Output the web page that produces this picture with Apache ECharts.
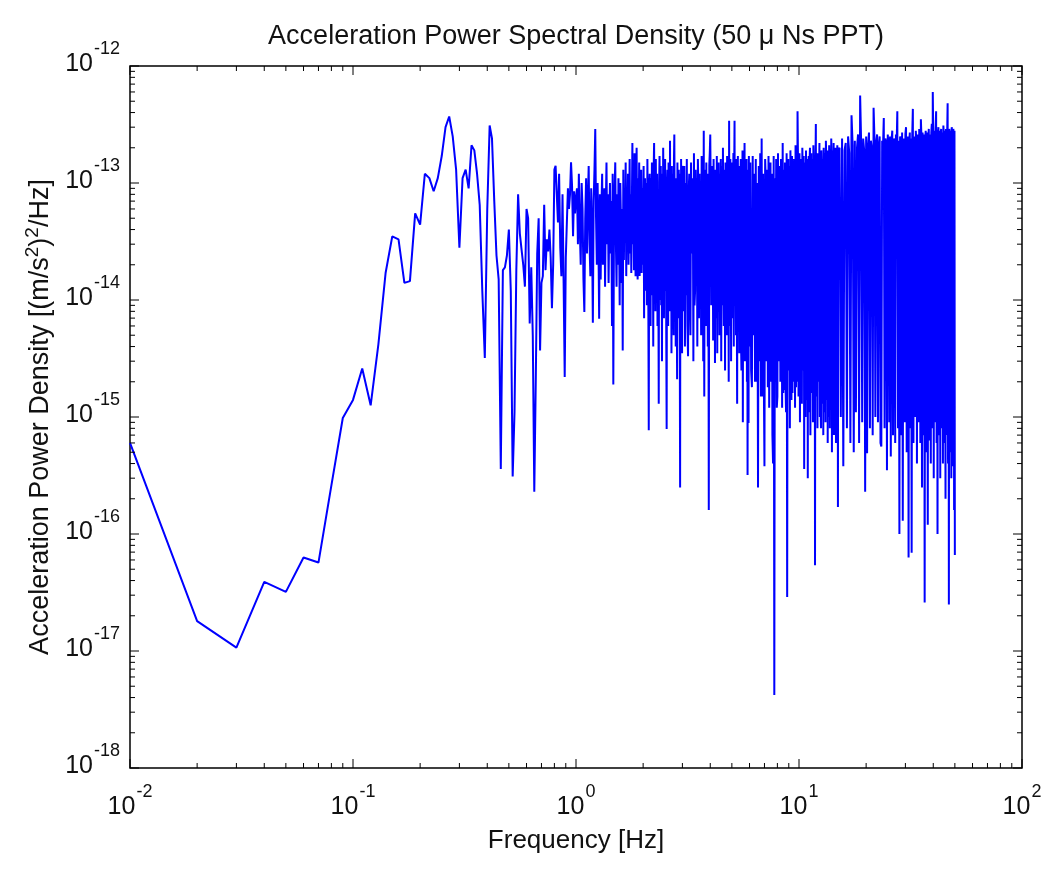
<!DOCTYPE html>
<html><head><meta charset="utf-8">
<script src="https://cdn.jsdelivr.net/npm/echarts@6/dist/echarts.min.js"></script>
<style>html,body{margin:0;padding:0;background:#fff}#c{width:1053px;height:879px}</style>
</head><body><div id="c"></div>
<script>
const titleText = 'Acceleration Power Spectral Density (50 \u03bc Ns PPT)';
const xAxisName = 'Frequency [Hz]';
const yAxisName = '{n|Acceleration Power Density [(m/s}{s|2}{n|)}{s|2}{n|/Hz]}';
const xMinHz = 0.01, xMaxHz = 100;
const yMinPsd = 1e-18, yMaxPsd = 1e-12;

// frequency bins: start and step of each block of PSD values
const binStartHz = [0.01, 1.01, 3.02, 6.05, 15.2];
const binStepHz = [0.01, 0.01, 0.02, 0.05, 0.2];

// 0.01 - 1.00 Hz
const psdA = [6e-16,1.8e-17,1.07e-17,3.9e-17,3.2e-17,6.3e-17,5.7e-17,2.6e-16,9.8e-16,1.4e-15,
2.6e-15,1.26e-15,4.2e-15,1.7e-14,3.5e-14,3.3e-14,1.4e-14,1.45e-14,5.5e-14,4.4e-14,
1.2e-13,1.1e-13,8.5e-14,1.1e-13,1.7e-13,3e-13,3.7e-13,2.5e-13,1.3e-13,2.8e-14,
1.1e-13,1.3e-13,9e-14,2.1e-13,1.9e-13,1.2e-13,6.5e-14,1.2e-14,3.2e-15,6e-14,
3.1e-13,2.4e-13,7e-14,2.4e-14,1.5e-14,3.6e-16,1.8e-14,1.9e-14,2.4e-14,4e-14,
1.2e-14,3.1e-16,1.1e-15,1.8e-14,8e-14,3.7e-14,2.7e-14,2e-14,1.3e-14,6e-14,
5e-14,6.3e-15,1.9e-14,5e-15,2.3e-16,2e-15,2.5e-14,5e-14,3.7e-15,1.4e-14,
1.6e-14,6.5e-14,1.8e-14,3.3e-14,2.6e-14,4e-14,2.3e-14,8.5e-15,2e-14,1.3e-13,
1.4e-13,8e-14,4.6e-14,1.2e-13,2.8e-14,1.6e-14,8e-14,1.4e-14,2.2e-15,2.3e-14,
4.6e-14,9e-14,6e-14,8e-14,1.5e-13,9.5e-14,3.5e-14,8.5e-14,5.5e-14,7.5e-14];

// 1.01 - 3.00 Hz
const psdB = [9e-14,3e-14,1.2e-13,4e-14,2e-14,1e-13,6e-14,1.5e-14,7.9e-15,5e-14,
1.1e-13,2.5e-14,7e-14,1.4e-13,3e-14,1.6e-14,9e-14,4e-14,6.4e-15,7e-14,
1.3e-13,2.9e-13,5e-14,2e-14,1e-13,3.5e-14,6.9e-15,8e-14,1.5e-14,6e-14,
1.2e-13,2e-14,4.5e-14,9e-14,1.3e-14,6e-14,1.5e-13,3e-14,8e-14,1.4e-14,
5e-14,1e-13,2.5e-14,7e-14,6e-15,1.2e-13,1.9e-15,4e-14,9e-14,1.5e-13,
3e-14,1.3e-14,8e-14,2e-14,1.1e-13,4e-14,9e-15,1e-13,5e-14,1.4e-14,
6e-14,3.7e-15,1.3e-13,2.2e-14,9e-14,3.5e-14,1.5e-13,1.6e-14,7e-14,4.5e-14,
1.2e-13,2e-14,5e-14,1.6e-13,2.5e-14,8e-14,1.7e-14,6e-14,2.2e-13,3e-14,
1e-13,1.8e-14,1.8e-13,4e-14,1.6e-14,9e-14,2e-13,2.5e-14,1.5e-14,1.1e-13,
5e-14,1.5e-13,1.6e-14,7e-14,3e-14,1.3e-13,1.7e-14,9e-14,2e-14,6e-14,
1.4e-13,7e-15,8e-14,1.1e-13,1.2e-14,5e-14,1e-13,9e-15,1.6e-13,4e-14,
1e-14,7.7e-16,9e-14,1.2e-13,2e-14,6e-15,1.1e-13,4e-14,1.5e-13,1.1e-14,
8e-14,4e-15,1.3e-13,2.2e-13,2.5e-14,1e-13,8e-15,1.6e-13,5e-14,1.3e-14,
1.2e-13,6e-15,7e-14,1.8e-14,1.3e-15,1e-13,1.7e-13,1e-14,6e-14,1.4e-13,
9e-15,9e-14,3e-15,1.2e-13,1.5e-14,2e-13,7e-14,7e-15,1.1e-13,4e-14,
1.6e-13,1.2e-14,6e-14,4.5e-15,7.9e-16,1e-13,1.3e-13,2e-14,6e-15,1.5e-13,
4e-14,9e-14,8e-15,2.3e-13,1.1e-14,1.1e-13,6e-14,3.5e-15,1.4e-13,3e-14,
8e-14,1.2e-13,1e-14,5e-15,1.6e-13,2.6e-13,5e-14,9e-15,9e-14,4e-15,
1.1e-13,7e-14,1.3e-14,2.1e-15,1.5e-13,4.5e-14,7e-15,1e-13,1.3e-13,1.1e-14,
6e-14,5e-15,2.5e-16,1.2e-13,8e-15,1.6e-13,1.2e-14,8e-14,3.5e-15,1.4e-13];

// 3.02 - 6.00 Hz
const psdC = [9e-14,8e-15,1.4e-13,4e-15,1e-13,1.1e-14,1.6e-13,6e-15,3.3e-15,8e-14,
1.2e-13,1e-14,5e-15,1.5e-13,2.5e-14,6e-14,1.1e-13,3e-15,1.8e-13,9e-15,
1.2e-14,1.3e-13,6e-14,1.1e-13,4e-15,1.6e-13,9e-14,7e-15,1.2e-13,2e-14,
1e-13,5e-15,1.7e-13,1e-14,1.1e-13,3e-15,2.8e-13,1.5e-15,1.3e-13,8e-15,
6e-15,1.5e-13,1.2e-14,1e-13,4e-15,1.2e-13,1.6e-16,1.4e-13,1.8e-13,2.6e-13,
8e-14,9e-15,1.4e-13,3e-14,1.1e-13,4.5e-15,1.6e-13,1e-14,9e-14,2.9e-15,
1.3e-13,7e-15,1.1e-14,1.7e-13,3.5e-15,1e-13,8e-15,1.5e-13,6e-14,5e-15,
1.2e-13,1.2e-14,1.6e-13,3e-15,8e-14,1.4e-13,9e-15,2e-13,2e-14,6e-15,
1.3e-13,7e-14,2.5e-15,1.5e-13,1e-14,1.1e-13,5e-15,1.7e-13,8e-15,9e-14,
1.2e-13,2e-15,3.4e-13,1.1e-14,6e-15,1.6e-13,1e-13,3e-15,1.4e-13,1.2e-14,
1.5e-13,7e-15,9e-14,1.8e-13,4e-15,1.2e-13,3.4e-13,9e-15,1.3e-13,2.5e-14,
5e-15,1.6e-13,1e-14,1.3e-15,1.1e-13,1.7e-13,7e-15,8e-14,1.4e-13,3.5e-15,
1.2e-13,8e-15,1e-13,1.6e-13,4e-15,2.5e-15,1.3e-13,1.1e-14,1.9e-13,9e-16,
7e-14,1.4e-13,6e-15,1.1e-13,2.2e-13,3e-15,1.5e-13,1e-14,1.2e-13,5e-15,
1.6e-13,2e-15,9e-14,3.2e-16,1.3e-13,8e-15,8.9e-16,1.7e-13,4e-15,1.2e-13];

// 6.05 - 15.00 Hz
const psdD = [1.5e-13,2.5e-15,1.8e-15,1.7e-13,5e-15,1.2e-13,2e-15,1.6e-13,2e-15,1e-13,
2.5e-16,1.4e-13,3e-15,1.8e-13,1.5e-15,2.4e-13,1.5e-15,1.2e-13,2.5e-15,3.8e-16,
1.6e-13,1e-13,3e-15,1.3e-13,1.8e-15,1.7e-13,1.2e-15,9e-14,1.5e-13,2e-15,
1.2e-13,7e-16,4e-16,1.7e-13,4.2e-18,1.1e-13,2e-15,1.6e-13,1.2e-15,1.5e-15,
1.8e-13,3e-15,1.2e-13,1.4e-13,2e-15,1.6e-13,9e-14,1.2e-15,2.2e-13,1.6e-15,
1.3e-13,1.7e-15,1.5e-13,1.9e-15,1.1e-15,1.8e-13,2.9e-17,1.2e-13,1.6e-13,2.5e-15,
1.4e-13,8e-16,1.9e-13,1e-13,1.4e-15,1.7e-13,1.6e-15,1.2e-13,2e-15,1.6e-13,
1.1e-13,1.2e-15,2.1e-13,1.8e-15,1.8e-13,2e-15,4.1e-13,1.5e-13,1.5e-15,1.3e-13,
1.8e-13,9e-16,1.4e-13,1.7e-15,1.6e-13,1.3e-15,2e-13,1.1e-13,2.5e-15,1.7e-13,
3.6e-16,1.5e-13,1.2e-13,1e-15,1.9e-13,1.9e-15,1.4e-15,1.6e-13,3e-16,1.3e-13,
1.7e-13,1.1e-15,1.5e-13,2e-13,7e-16,1.2e-13,1.8e-13,1.6e-15,1e-13,1.6e-13,
9e-16,2.1e-13,1.3e-13,1.2e-15,1.7e-13,5.4e-17,1.4e-13,3.2e-13,1.5e-15,1.5e-13,
1.1e-13,8e-16,1.8e-13,1.6e-13,2e-15,1.2e-13,2.2e-13,1e-15,1.7e-13,1.2e-15,
8e-16,1.9e-13,1.4e-13,1.3e-15,1.6e-13,1e-13,7e-16,2e-13,1.5e-13,1.1e-15,
1.8e-13,1.2e-13,9e-16,2.3e-13,1.6e-13,1.4e-15,1.3e-13,1.9e-13,6e-16,1.7e-13,
1.4e-13,1e-15,2.1e-13,1.5e-13,8e-16,1.8e-13,1.2e-13,1.3e-15,2.4e-13,1.6e-13,
5e-16,1.7e-13,1.9e-13,1.1e-15,1.3e-13,2.2e-13,7e-16,1.6e-13,1.8e-13,9e-16,
1.5e-13,2e-13,6e-16,1.4e-13,1.7e-13,1e-15,2.1e-13,1.6e-13,1.7e-16,1.9e-13];

// 15.2 - 50.0 Hz
const psdE = [2e-13,1e-15,2.4e-13,3.8e-16,1.9e-13,2.2e-13,8e-16,2.5e-13,1.8e-13,6e-16,
3.8e-13,2.1e-13,5e-16,2.3e-13,1.1e-15,2e-13,2.6e-13,6e-16,5.6e-13,2.2e-13,
9e-16,2.4e-13,1.9e-13,2.3e-16,2.5e-13,4.9e-16,2.1e-13,2.7e-13,8e-16,2.3e-13,
2e-13,7e-16,4.4e-13,2.4e-13,1e-15,2.2e-13,2.6e-13,9e-16,2.1e-13,2.5e-13,
6e-16,5.6e-16,2.3e-13,2e-13,3.6e-13,8e-16,2.4e-13,2.2e-13,3.5e-16,2.6e-13,
2.1e-13,9e-16,2.5e-13,4.6e-16,2.3e-13,2.8e-13,7e-16,2.2e-13,2.4e-13,6e-16,
2.6e-13,2.1e-13,4.1e-13,8e-16,2.3e-13,1e-16,2.5e-13,2.2e-13,7e-16,2.7e-13,
1.3e-16,2.4e-13,2.1e-13,9e-16,2.6e-13,3e-13,5e-16,2.3e-13,2.5e-13,6.3e-17,
2.2e-13,2.7e-13,8e-16,2.4e-13,6.9e-17,2.6e-13,4.3e-13,6e-16,2.3e-13,2.5e-13,
1e-15,2.8e-13,2.2e-13,4e-16,2.6e-13,2.4e-13,9e-16,2.9e-13,2.3e-13,6e-16,
3.5e-13,2.5e-13,2.5e-16,2.7e-13,2.4e-13,7e-16,2.6e-13,2.6e-17,2.3e-13,2.8e-13,
5e-16,2.5e-13,2.7e-13,1.2e-16,2.4e-13,2.9e-13,6.3e-16,2.6e-13,2.5e-13,4e-16,
2.7e-13,3.2e-13,8e-16,6e-13,2.6e-13,3e-16,2.8e-13,2.4e-13,9e-16,2.9e-13,
4.1e-13,6e-16,2.6e-13,1e-16,2.7e-13,3e-13,7e-16,2.5e-13,2.8e-13,3e-16,
2.6e-13,2.9e-13,8e-16,2.7e-13,2.5e-13,4e-16,3.1e-13,2.6e-13,6e-16,2.8e-13,
2.7e-13,2e-16,2.9e-13,2.5e-13,7e-16,2.8e-13,4.8e-13,4e-16,2.6e-13,2.5e-17,
2.9e-13,2.7e-13,5e-16,2.6e-13,2.8e-13,3e-16,3e-13,2.7e-13,4e-16,3.8e-16,
2.9e-13,2.6e-13,1.6e-16,2.8e-13,6.6e-17];

const psdBlocks = [psdA, psdB, psdC, psdD, psdE];

// build [frequency, psd] pairs
const psdData = [];
psdBlocks.forEach(function (vals, b) {
  vals.forEach(function (v, i) {
    psdData.push([+(binStartHz[b] + i * binStepHz[b]).toFixed(2), v]);
  });
});

// axis tick positions (decades and 2..9 minors)
function logTicks(lo, hi) {
  const out = [];
  for (let e = lo; e < hi; e++) {
    for (let m = 1; m <= 9; m++) out.push([m * Math.pow(10, e), m === 1 ? 1 : 0]);
  }
  out.push([Math.pow(10, hi), 1]);
  return out;
}
const xTicks = logTicks(-2, 2);
const yTicks = logTicks(-18, -12);

const FONT = "'Liberation Sans', Arial, Helvetica, sans-serif";
const MAJOR = 9, MINOR = 5;

function tickLabel(v) {
  const e = Math.round(Math.log10(v));
  return '{b|10}{e|' + e + '}';
}
const labelRich = {
  b: { fontSize: 25, fontFamily: FONT, color: '#111', verticalAlign: 'bottom', lineHeight: 26 },
  e: { fontSize: 18, fontFamily: FONT, color: '#111', verticalAlign: 'bottom', lineHeight: 18, padding: [0, 0, 19, 1] }
};

const chart = echarts.init(document.getElementById('c'), null, { renderer: 'canvas' });
chart.setOption({
  animation: false,
  backgroundColor: '#fff',
  title: {
    text: titleText,
    left: 576,
    textAlign: 'center',
    top: 23,
    padding: 0,
    textStyle: { fontSize: 27, fontWeight: 'normal', fontFamily: FONT, color: '#111' }
  },
  grid: { left: 130, right: 31, top: 66, bottom: 111, show: true, borderColor: '#000', borderWidth: 1.5, backgroundColor: '#fff' },
  xAxis: {
    type: 'log', logBase: 10, min: xMinHz, max: xMaxHz, splitNumber: 4,
    name: xAxisName, nameLocation: 'middle', nameGap: 60,
    nameTextStyle: { fontSize: 26, fontFamily: FONT, color: '#111' },
    axisLine: { show: false }, axisTick: { show: false }, splitLine: { show: false }, minorTick: { show: false },
    axisLabel: { formatter: tickLabel, rich: labelRich, margin: 26, color: '#111' }
  },
  yAxis: {
    type: 'log', logBase: 10, min: yMinPsd, max: yMaxPsd, splitNumber: 6,
    name: yAxisName, nameLocation: 'middle', nameRotate: 90, nameGap: 70,
    nameTextStyle: {
      rich: {
        n: { fontSize: 27, fontFamily: FONT, color: '#111', verticalAlign: 'bottom', lineHeight: 28 },
        s: { fontSize: 19, fontFamily: FONT, color: '#111', verticalAlign: 'bottom', lineHeight: 19, padding: [0, 0, 12, 0] }
      }
    },
    axisLine: { show: false }, axisTick: { show: false }, splitLine: { show: false }, minorTick: { show: false },
    axisLabel: { formatter: tickLabel, rich: labelRich, margin: 10, padding: [0, 0, 4, 0], color: '#111' }
  },
  series: [
    {
      type: 'line', data: psdData, showSymbol: false, symbol: 'none', sampling: null,
      lineStyle: { color: '#0000ff', width: 2 }, z: 2, silent: true, clip: true
    },
    {
      type: 'custom', data: xTicks.map(function (t) { return [t[0], yMinPsd, t[1]]; }), z: 5, silent: true, clip: false,
      renderItem: function (params, api) {
        const v = api.value(0), major = api.value(2);
        const pb = api.coord([v, yMinPsd]), pt = api.coord([v, yMaxPsd]);
        const L = major ? MAJOR : MINOR;
        const st = { stroke: '#000', lineWidth: 1 };
        return { type: 'group', children: [
          { type: 'line', shape: { x1: pb[0], y1: pb[1], x2: pb[0], y2: pb[1] - L }, style: st },
          { type: 'line', shape: { x1: pt[0], y1: pt[1], x2: pt[0], y2: pt[1] + L }, style: st }
        ] };
      }
    },
    {
      type: 'custom', data: yTicks.map(function (t) { return [xMinHz, t[0], t[1]]; }), z: 5, silent: true, clip: false,
      renderItem: function (params, api) {
        const v = api.value(1), major = api.value(2);
        const pl = api.coord([xMinHz, v]), pr = api.coord([xMaxHz, v]);
        const L = major ? MAJOR : MINOR;
        const st = { stroke: '#000', lineWidth: 1 };
        return { type: 'group', children: [
          { type: 'line', shape: { x1: pl[0], y1: pl[1], x2: pl[0] + L, y2: pl[1] }, style: st },
          { type: 'line', shape: { x1: pr[0], y1: pr[1], x2: pr[0] - L, y2: pr[1] }, style: st }
        ] };
      }
    }
  ]
});
</script>
</body></html>
